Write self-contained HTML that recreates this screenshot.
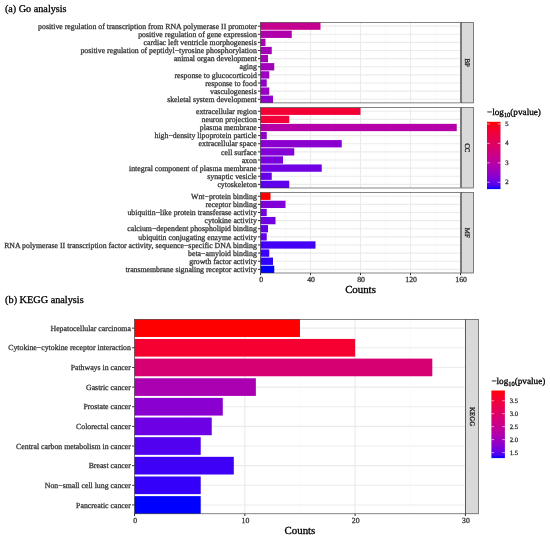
<!DOCTYPE html>
<html><head><meta charset="utf-8"><style>
html,body{margin:0;padding:0;background:#fff;}
svg{display:block;font-family:'Liberation Serif', 'DejaVu Serif', serif;text-rendering:geometricPrecision;}
text{stroke-width:0.3px;stroke-linejoin:round;}
</style></head><body>
<svg width="550" height="541" viewBox="0 0 550 541">
<rect width="550" height="541" fill="#fff"/>
<text x="4.9" y="11.9" font-size="10.2" fill="#000" stroke="#000">(a) Go analysis</text>
<rect x="260.5" y="22.5" width="200.0" height="80.4" fill="#fff"/>
<line x1="285.50" y1="22.5" x2="285.50" y2="102.9" stroke="#F5F5F5" stroke-width="0.55"/>
<line x1="335.50" y1="22.5" x2="335.50" y2="102.9" stroke="#F5F5F5" stroke-width="0.55"/>
<line x1="385.50" y1="22.5" x2="385.50" y2="102.9" stroke="#F5F5F5" stroke-width="0.55"/>
<line x1="435.50" y1="22.5" x2="435.50" y2="102.9" stroke="#F5F5F5" stroke-width="0.55"/>
<line x1="260.50" y1="22.5" x2="260.50" y2="102.9" stroke="#EBEBEB" stroke-width="1.1"/>
<line x1="310.50" y1="22.5" x2="310.50" y2="102.9" stroke="#EBEBEB" stroke-width="1.1"/>
<line x1="360.50" y1="22.5" x2="360.50" y2="102.9" stroke="#EBEBEB" stroke-width="1.1"/>
<line x1="410.50" y1="22.5" x2="410.50" y2="102.9" stroke="#EBEBEB" stroke-width="1.1"/>
<line x1="460.50" y1="22.5" x2="460.50" y2="102.9" stroke="#EBEBEB" stroke-width="1.1"/>
<line x1="260.5" y1="26.15" x2="460.5" y2="26.15" stroke="#EBEBEB" stroke-width="1.1"/>
<line x1="260.5" y1="34.28" x2="460.5" y2="34.28" stroke="#EBEBEB" stroke-width="1.1"/>
<line x1="260.5" y1="42.40" x2="460.5" y2="42.40" stroke="#EBEBEB" stroke-width="1.1"/>
<line x1="260.5" y1="50.52" x2="460.5" y2="50.52" stroke="#EBEBEB" stroke-width="1.1"/>
<line x1="260.5" y1="58.64" x2="460.5" y2="58.64" stroke="#EBEBEB" stroke-width="1.1"/>
<line x1="260.5" y1="66.76" x2="460.5" y2="66.76" stroke="#EBEBEB" stroke-width="1.1"/>
<line x1="260.5" y1="74.88" x2="460.5" y2="74.88" stroke="#EBEBEB" stroke-width="1.1"/>
<line x1="260.5" y1="83.00" x2="460.5" y2="83.00" stroke="#EBEBEB" stroke-width="1.1"/>
<line x1="260.5" y1="91.12" x2="460.5" y2="91.12" stroke="#EBEBEB" stroke-width="1.1"/>
<line x1="260.5" y1="99.25" x2="460.5" y2="99.25" stroke="#EBEBEB" stroke-width="1.1"/>
<rect x="260.5" y="22.50" width="60.00" height="7.31" fill="#C5008F"/>
<line x1="258.00" y1="26.15" x2="260.5" y2="26.15" stroke="#333333" stroke-width="1"/>
<text x="256.80" y="28.85" text-anchor="end" font-size="7.8" fill="#383838" stroke="#383838">positive regulation of transcription from RNA polymerase II promoter</text>
<rect x="260.5" y="30.62" width="31.25" height="7.31" fill="#B000AB"/>
<line x1="258.00" y1="34.28" x2="260.5" y2="34.28" stroke="#333333" stroke-width="1"/>
<text x="256.80" y="36.98" text-anchor="end" font-size="7.8" fill="#383838" stroke="#383838">positive regulation of gene expression</text>
<rect x="260.5" y="38.74" width="5.00" height="7.31" fill="#AC00B0"/>
<line x1="258.00" y1="42.40" x2="260.5" y2="42.40" stroke="#333333" stroke-width="1"/>
<text x="256.80" y="45.10" text-anchor="end" font-size="7.8" fill="#383838" stroke="#383838">cardiac left ventricle morphogenesis</text>
<rect x="260.5" y="46.86" width="11.25" height="7.31" fill="#A600B7"/>
<line x1="258.00" y1="50.52" x2="260.5" y2="50.52" stroke="#333333" stroke-width="1"/>
<text x="256.80" y="53.22" text-anchor="end" font-size="7.8" fill="#383838" stroke="#383838">positive regulation of peptidyl−tyrosine phosphorylation</text>
<rect x="260.5" y="54.98" width="7.50" height="7.31" fill="#A400B9"/>
<line x1="258.00" y1="58.64" x2="260.5" y2="58.64" stroke="#333333" stroke-width="1"/>
<text x="256.80" y="61.34" text-anchor="end" font-size="7.8" fill="#383838" stroke="#383838">animal organ development</text>
<rect x="260.5" y="63.11" width="13.75" height="7.31" fill="#A200BB"/>
<line x1="258.00" y1="66.76" x2="260.5" y2="66.76" stroke="#333333" stroke-width="1"/>
<text x="256.80" y="69.46" text-anchor="end" font-size="7.8" fill="#383838" stroke="#383838">aging</text>
<rect x="260.5" y="71.23" width="8.75" height="7.31" fill="#9D00C0"/>
<line x1="258.00" y1="74.88" x2="260.5" y2="74.88" stroke="#333333" stroke-width="1"/>
<text x="256.80" y="77.58" text-anchor="end" font-size="7.8" fill="#383838" stroke="#383838">response to glucocorticoid</text>
<rect x="260.5" y="79.35" width="6.25" height="7.31" fill="#9200CA"/>
<line x1="258.00" y1="83.00" x2="260.5" y2="83.00" stroke="#333333" stroke-width="1"/>
<text x="256.80" y="85.70" text-anchor="end" font-size="7.8" fill="#383838" stroke="#383838">response to food</text>
<rect x="260.5" y="87.47" width="8.75" height="7.31" fill="#9A00C3"/>
<line x1="258.00" y1="91.12" x2="260.5" y2="91.12" stroke="#333333" stroke-width="1"/>
<text x="256.80" y="93.82" text-anchor="end" font-size="7.8" fill="#383838" stroke="#383838">vasculogenesis</text>
<rect x="260.5" y="95.59" width="12.50" height="7.31" fill="#9000CC"/>
<line x1="258.00" y1="99.25" x2="260.5" y2="99.25" stroke="#333333" stroke-width="1"/>
<text x="256.80" y="101.95" text-anchor="end" font-size="7.8" fill="#383838" stroke="#383838">skeletal system development</text>
<rect x="260.5" y="22.5" width="200.0" height="80.4" fill="none" stroke="#333333" stroke-width="0.6"/>
<rect x="461.5" y="22.5" width="12.0" height="80.4" fill="#D9D9D9" stroke="#333333" stroke-width="0.6"/>
<text x="0" y="0" transform="translate(465.10,62.70) rotate(90)" text-anchor="middle" font-size="6.9" fill="#1A1A1A" stroke="#1A1A1A">BP</text>
<rect x="260.5" y="107.6" width="200.0" height="80.4" fill="#fff"/>
<line x1="285.50" y1="107.6" x2="285.50" y2="188.0" stroke="#F5F5F5" stroke-width="0.55"/>
<line x1="335.50" y1="107.6" x2="335.50" y2="188.0" stroke="#F5F5F5" stroke-width="0.55"/>
<line x1="385.50" y1="107.6" x2="385.50" y2="188.0" stroke="#F5F5F5" stroke-width="0.55"/>
<line x1="435.50" y1="107.6" x2="435.50" y2="188.0" stroke="#F5F5F5" stroke-width="0.55"/>
<line x1="260.50" y1="107.6" x2="260.50" y2="188.0" stroke="#EBEBEB" stroke-width="1.1"/>
<line x1="310.50" y1="107.6" x2="310.50" y2="188.0" stroke="#EBEBEB" stroke-width="1.1"/>
<line x1="360.50" y1="107.6" x2="360.50" y2="188.0" stroke="#EBEBEB" stroke-width="1.1"/>
<line x1="410.50" y1="107.6" x2="410.50" y2="188.0" stroke="#EBEBEB" stroke-width="1.1"/>
<line x1="460.50" y1="107.6" x2="460.50" y2="188.0" stroke="#EBEBEB" stroke-width="1.1"/>
<line x1="260.5" y1="111.25" x2="460.5" y2="111.25" stroke="#EBEBEB" stroke-width="1.1"/>
<line x1="260.5" y1="119.38" x2="460.5" y2="119.38" stroke="#EBEBEB" stroke-width="1.1"/>
<line x1="260.5" y1="127.50" x2="460.5" y2="127.50" stroke="#EBEBEB" stroke-width="1.1"/>
<line x1="260.5" y1="135.62" x2="460.5" y2="135.62" stroke="#EBEBEB" stroke-width="1.1"/>
<line x1="260.5" y1="143.74" x2="460.5" y2="143.74" stroke="#EBEBEB" stroke-width="1.1"/>
<line x1="260.5" y1="151.86" x2="460.5" y2="151.86" stroke="#EBEBEB" stroke-width="1.1"/>
<line x1="260.5" y1="159.98" x2="460.5" y2="159.98" stroke="#EBEBEB" stroke-width="1.1"/>
<line x1="260.5" y1="168.10" x2="460.5" y2="168.10" stroke="#EBEBEB" stroke-width="1.1"/>
<line x1="260.5" y1="176.22" x2="460.5" y2="176.22" stroke="#EBEBEB" stroke-width="1.1"/>
<line x1="260.5" y1="184.35" x2="460.5" y2="184.35" stroke="#EBEBEB" stroke-width="1.1"/>
<rect x="260.5" y="107.60" width="100.00" height="7.31" fill="#F30035"/>
<line x1="258.00" y1="111.25" x2="260.5" y2="111.25" stroke="#333333" stroke-width="1"/>
<text x="256.80" y="113.95" text-anchor="end" font-size="7.8" fill="#383838" stroke="#383838">extracellular region</text>
<rect x="260.5" y="115.72" width="28.75" height="7.31" fill="#F1003A"/>
<line x1="258.00" y1="119.38" x2="260.5" y2="119.38" stroke="#333333" stroke-width="1"/>
<text x="256.80" y="122.08" text-anchor="end" font-size="7.8" fill="#383838" stroke="#383838">neuron projection</text>
<rect x="260.5" y="123.84" width="196.25" height="7.31" fill="#B400A6"/>
<line x1="258.00" y1="127.50" x2="260.5" y2="127.50" stroke="#333333" stroke-width="1"/>
<text x="256.80" y="130.20" text-anchor="end" font-size="7.8" fill="#383838" stroke="#383838">plasma membrane</text>
<rect x="260.5" y="131.96" width="6.25" height="7.31" fill="#9200CA"/>
<line x1="258.00" y1="135.62" x2="260.5" y2="135.62" stroke="#333333" stroke-width="1"/>
<text x="256.80" y="138.32" text-anchor="end" font-size="7.8" fill="#383838" stroke="#383838">high−density lipoprotein particle</text>
<rect x="260.5" y="140.08" width="81.25" height="7.31" fill="#8A00D1"/>
<line x1="258.00" y1="143.74" x2="260.5" y2="143.74" stroke="#333333" stroke-width="1"/>
<text x="256.80" y="146.44" text-anchor="end" font-size="7.8" fill="#383838" stroke="#383838">extracellular space</text>
<rect x="260.5" y="148.21" width="33.75" height="7.31" fill="#8300D6"/>
<line x1="258.00" y1="151.86" x2="260.5" y2="151.86" stroke="#333333" stroke-width="1"/>
<text x="256.80" y="154.56" text-anchor="end" font-size="7.8" fill="#383838" stroke="#383838">cell surface</text>
<rect x="260.5" y="156.33" width="22.50" height="7.31" fill="#7900DD"/>
<line x1="258.00" y1="159.98" x2="260.5" y2="159.98" stroke="#333333" stroke-width="1"/>
<text x="256.80" y="162.68" text-anchor="end" font-size="7.8" fill="#383838" stroke="#383838">axon</text>
<rect x="260.5" y="164.45" width="61.25" height="7.31" fill="#7100E2"/>
<line x1="258.00" y1="168.10" x2="260.5" y2="168.10" stroke="#333333" stroke-width="1"/>
<text x="256.80" y="170.80" text-anchor="end" font-size="7.8" fill="#383838" stroke="#383838">integral component of plasma membrane</text>
<rect x="260.5" y="172.57" width="11.25" height="7.31" fill="#6800E7"/>
<line x1="258.00" y1="176.22" x2="260.5" y2="176.22" stroke="#333333" stroke-width="1"/>
<text x="256.80" y="178.92" text-anchor="end" font-size="7.8" fill="#383838" stroke="#383838">synaptic vesicle</text>
<rect x="260.5" y="180.69" width="28.75" height="7.31" fill="#5E00EB"/>
<line x1="258.00" y1="184.35" x2="260.5" y2="184.35" stroke="#333333" stroke-width="1"/>
<text x="256.80" y="187.05" text-anchor="end" font-size="7.8" fill="#383838" stroke="#383838">cytoskeleton</text>
<rect x="260.5" y="107.6" width="200.0" height="80.4" fill="none" stroke="#333333" stroke-width="0.6"/>
<rect x="461.5" y="107.6" width="12.0" height="80.4" fill="#D9D9D9" stroke="#333333" stroke-width="0.6"/>
<text x="0" y="0" transform="translate(465.10,147.80) rotate(90)" text-anchor="middle" font-size="6.9" fill="#1A1A1A" stroke="#1A1A1A">CC</text>
<rect x="260.5" y="192.6" width="200.0" height="80.4" fill="#fff"/>
<line x1="285.50" y1="192.6" x2="285.50" y2="273.0" stroke="#F5F5F5" stroke-width="0.55"/>
<line x1="335.50" y1="192.6" x2="335.50" y2="273.0" stroke="#F5F5F5" stroke-width="0.55"/>
<line x1="385.50" y1="192.6" x2="385.50" y2="273.0" stroke="#F5F5F5" stroke-width="0.55"/>
<line x1="435.50" y1="192.6" x2="435.50" y2="273.0" stroke="#F5F5F5" stroke-width="0.55"/>
<line x1="260.50" y1="192.6" x2="260.50" y2="273.0" stroke="#EBEBEB" stroke-width="1.1"/>
<line x1="310.50" y1="192.6" x2="310.50" y2="273.0" stroke="#EBEBEB" stroke-width="1.1"/>
<line x1="360.50" y1="192.6" x2="360.50" y2="273.0" stroke="#EBEBEB" stroke-width="1.1"/>
<line x1="410.50" y1="192.6" x2="410.50" y2="273.0" stroke="#EBEBEB" stroke-width="1.1"/>
<line x1="460.50" y1="192.6" x2="460.50" y2="273.0" stroke="#EBEBEB" stroke-width="1.1"/>
<line x1="260.5" y1="196.25" x2="460.5" y2="196.25" stroke="#EBEBEB" stroke-width="1.1"/>
<line x1="260.5" y1="204.38" x2="460.5" y2="204.38" stroke="#EBEBEB" stroke-width="1.1"/>
<line x1="260.5" y1="212.50" x2="460.5" y2="212.50" stroke="#EBEBEB" stroke-width="1.1"/>
<line x1="260.5" y1="220.62" x2="460.5" y2="220.62" stroke="#EBEBEB" stroke-width="1.1"/>
<line x1="260.5" y1="228.74" x2="460.5" y2="228.74" stroke="#EBEBEB" stroke-width="1.1"/>
<line x1="260.5" y1="236.86" x2="460.5" y2="236.86" stroke="#EBEBEB" stroke-width="1.1"/>
<line x1="260.5" y1="244.98" x2="460.5" y2="244.98" stroke="#EBEBEB" stroke-width="1.1"/>
<line x1="260.5" y1="253.10" x2="460.5" y2="253.10" stroke="#EBEBEB" stroke-width="1.1"/>
<line x1="260.5" y1="261.22" x2="460.5" y2="261.22" stroke="#EBEBEB" stroke-width="1.1"/>
<line x1="260.5" y1="269.35" x2="460.5" y2="269.35" stroke="#EBEBEB" stroke-width="1.1"/>
<rect x="260.5" y="192.60" width="10.00" height="7.31" fill="#FF0000"/>
<line x1="258.00" y1="196.25" x2="260.5" y2="196.25" stroke="#333333" stroke-width="1"/>
<text x="256.80" y="198.95" text-anchor="end" font-size="7.8" fill="#383838" stroke="#383838">Wnt−protein binding</text>
<rect x="260.5" y="200.72" width="25.00" height="7.31" fill="#8000D8"/>
<line x1="258.00" y1="204.38" x2="260.5" y2="204.38" stroke="#333333" stroke-width="1"/>
<text x="256.80" y="207.08" text-anchor="end" font-size="7.8" fill="#383838" stroke="#383838">receptor binding</text>
<rect x="260.5" y="208.84" width="6.25" height="7.31" fill="#7500DF"/>
<line x1="258.00" y1="212.50" x2="260.5" y2="212.50" stroke="#333333" stroke-width="1"/>
<text x="256.80" y="215.20" text-anchor="end" font-size="7.8" fill="#383838" stroke="#383838">ubiquitin−like protein transferase activity</text>
<rect x="260.5" y="216.96" width="15.00" height="7.31" fill="#7100E2"/>
<line x1="258.00" y1="220.62" x2="260.5" y2="220.62" stroke="#333333" stroke-width="1"/>
<text x="256.80" y="223.32" text-anchor="end" font-size="7.8" fill="#383838" stroke="#383838">cytokine activity</text>
<rect x="260.5" y="225.08" width="7.50" height="7.31" fill="#6300E9"/>
<line x1="258.00" y1="228.74" x2="260.5" y2="228.74" stroke="#333333" stroke-width="1"/>
<text x="256.80" y="231.44" text-anchor="end" font-size="7.8" fill="#383838" stroke="#383838">calcium−dependent phospholipid binding</text>
<rect x="260.5" y="233.21" width="6.25" height="7.31" fill="#6100EA"/>
<line x1="258.00" y1="236.86" x2="260.5" y2="236.86" stroke="#333333" stroke-width="1"/>
<text x="256.80" y="239.56" text-anchor="end" font-size="7.8" fill="#383838" stroke="#383838">ubiquitin conjugating enzyme activity</text>
<rect x="260.5" y="241.33" width="55.00" height="7.31" fill="#4300F5"/>
<line x1="258.00" y1="244.98" x2="260.5" y2="244.98" stroke="#333333" stroke-width="1"/>
<text x="256.80" y="247.68" text-anchor="end" font-size="7.8" fill="#383838" stroke="#383838">RNA polymerase II transcription factor activity, sequence−specific DNA binding</text>
<rect x="260.5" y="249.45" width="8.75" height="7.31" fill="#3A00F8"/>
<line x1="258.00" y1="253.10" x2="260.5" y2="253.10" stroke="#333333" stroke-width="1"/>
<text x="256.80" y="255.80" text-anchor="end" font-size="7.8" fill="#383838" stroke="#383838">beta−amyloid binding</text>
<rect x="260.5" y="257.57" width="12.50" height="7.31" fill="#2F00FA"/>
<line x1="258.00" y1="261.22" x2="260.5" y2="261.22" stroke="#333333" stroke-width="1"/>
<text x="256.80" y="263.92" text-anchor="end" font-size="7.8" fill="#383838" stroke="#383838">growth factor activity</text>
<rect x="260.5" y="265.69" width="13.75" height="7.31" fill="#0000FF"/>
<line x1="258.00" y1="269.35" x2="260.5" y2="269.35" stroke="#333333" stroke-width="1"/>
<text x="256.80" y="272.05" text-anchor="end" font-size="7.8" fill="#383838" stroke="#383838">transmembrane signaling receptor activity</text>
<rect x="260.5" y="192.6" width="200.0" height="80.4" fill="none" stroke="#333333" stroke-width="0.6"/>
<rect x="461.5" y="192.6" width="12.0" height="80.4" fill="#D9D9D9" stroke="#333333" stroke-width="0.6"/>
<text x="0" y="0" transform="translate(465.10,232.80) rotate(90)" text-anchor="middle" font-size="6.9" fill="#1A1A1A" stroke="#1A1A1A">MF</text>
<line x1="260.50" y1="273.0" x2="260.50" y2="275.2" stroke="#333333" stroke-width="1"/>
<text x="261.10" y="281.9" text-anchor="middle" font-size="7.8" fill="#383838" stroke="#383838">0</text>
<line x1="310.50" y1="273.0" x2="310.50" y2="275.2" stroke="#333333" stroke-width="1"/>
<text x="311.10" y="281.9" text-anchor="middle" font-size="7.8" fill="#383838" stroke="#383838">40</text>
<line x1="360.50" y1="273.0" x2="360.50" y2="275.2" stroke="#333333" stroke-width="1"/>
<text x="361.10" y="281.9" text-anchor="middle" font-size="7.8" fill="#383838" stroke="#383838">80</text>
<line x1="410.50" y1="273.0" x2="410.50" y2="275.2" stroke="#333333" stroke-width="1"/>
<text x="411.10" y="281.9" text-anchor="middle" font-size="7.8" fill="#383838" stroke="#383838">120</text>
<line x1="460.50" y1="273.0" x2="460.50" y2="275.2" stroke="#333333" stroke-width="1"/>
<text x="461.10" y="281.9" text-anchor="middle" font-size="7.8" fill="#383838" stroke="#383838">160</text>
<text x="360.50" y="293.35" text-anchor="middle" font-size="10.85" fill="#000" stroke="#000">Counts</text>
<text x="487" y="114.7" font-size="9.2" fill="#000" stroke="#000">−log<tspan font-size="6.4" dy="2.2">10</tspan><tspan dy="-2.2">(pvalue)</tspan></text>
<defs><linearGradient id="g1" x1="0" y1="1" x2="0" y2="0"><stop offset="0.00" stop-color="#0000FF"/><stop offset="0.05" stop-color="#4B00F3"/><stop offset="0.10" stop-color="#6800E7"/><stop offset="0.15" stop-color="#7C00DA"/><stop offset="0.20" stop-color="#8D00CE"/><stop offset="0.25" stop-color="#9A00C3"/><stop offset="0.30" stop-color="#A600B7"/><stop offset="0.35" stop-color="#B000AB"/><stop offset="0.40" stop-color="#BA009F"/><stop offset="0.45" stop-color="#C20094"/><stop offset="0.50" stop-color="#CA0088"/><stop offset="0.55" stop-color="#D1007D"/><stop offset="0.60" stop-color="#D70072"/><stop offset="0.65" stop-color="#DD0066"/><stop offset="0.70" stop-color="#E3005B"/><stop offset="0.75" stop-color="#E80050"/><stop offset="0.80" stop-color="#ED0044"/><stop offset="0.85" stop-color="#F20037"/><stop offset="0.90" stop-color="#F6002A"/><stop offset="0.95" stop-color="#FB001A"/><stop offset="1.00" stop-color="#FF0000"/></linearGradient></defs>
<rect x="487" y="121.8" width="13.5" height="67.3" fill="url(#g1)"/>
<line x1="487" y1="182.29" x2="489.7" y2="182.29" stroke="#fff" stroke-width="0.6"/>
<line x1="497.8" y1="182.29" x2="500.5" y2="182.29" stroke="#fff" stroke-width="0.6"/>
<text x="505.30" y="184.39" font-size="6.7" fill="#383838" stroke="#383838">2</text>
<line x1="487" y1="162.84" x2="489.7" y2="162.84" stroke="#fff" stroke-width="0.6"/>
<line x1="497.8" y1="162.84" x2="500.5" y2="162.84" stroke="#fff" stroke-width="0.6"/>
<text x="505.30" y="164.94" font-size="6.7" fill="#383838" stroke="#383838">3</text>
<line x1="487" y1="143.39" x2="489.7" y2="143.39" stroke="#fff" stroke-width="0.6"/>
<line x1="497.8" y1="143.39" x2="500.5" y2="143.39" stroke="#fff" stroke-width="0.6"/>
<text x="505.30" y="145.49" font-size="6.7" fill="#383838" stroke="#383838">4</text>
<line x1="487" y1="123.94" x2="489.7" y2="123.94" stroke="#fff" stroke-width="0.6"/>
<line x1="497.8" y1="123.94" x2="500.5" y2="123.94" stroke="#fff" stroke-width="0.6"/>
<text x="505.30" y="126.04" font-size="6.7" fill="#383838" stroke="#383838">5</text>
<text x="5.1" y="302.5" font-size="10.25" fill="#000" stroke="#000">(b) KEGG analysis</text>
<rect x="134.55" y="319.3" width="330.84999999999997" height="194.49999999999994" fill="#fff"/>
<line x1="189.69" y1="319.3" x2="189.69" y2="513.8" stroke="#F5F5F5" stroke-width="0.55"/>
<line x1="299.98" y1="319.3" x2="299.98" y2="513.8" stroke="#F5F5F5" stroke-width="0.55"/>
<line x1="410.26" y1="319.3" x2="410.26" y2="513.8" stroke="#F5F5F5" stroke-width="0.55"/>
<line x1="134.55" y1="319.3" x2="134.55" y2="513.8" stroke="#EBEBEB" stroke-width="1.1"/>
<line x1="244.83" y1="319.3" x2="244.83" y2="513.8" stroke="#EBEBEB" stroke-width="1.1"/>
<line x1="355.12" y1="319.3" x2="355.12" y2="513.8" stroke="#EBEBEB" stroke-width="1.1"/>
<line x1="465.40" y1="319.3" x2="465.40" y2="513.8" stroke="#EBEBEB" stroke-width="1.1"/>
<line x1="134.55" y1="328.14" x2="465.4" y2="328.14" stroke="#EBEBEB" stroke-width="1.1"/>
<line x1="134.55" y1="347.79" x2="465.4" y2="347.79" stroke="#EBEBEB" stroke-width="1.1"/>
<line x1="134.55" y1="367.43" x2="465.4" y2="367.43" stroke="#EBEBEB" stroke-width="1.1"/>
<line x1="134.55" y1="387.08" x2="465.4" y2="387.08" stroke="#EBEBEB" stroke-width="1.1"/>
<line x1="134.55" y1="406.73" x2="465.4" y2="406.73" stroke="#EBEBEB" stroke-width="1.1"/>
<line x1="134.55" y1="426.37" x2="465.4" y2="426.37" stroke="#EBEBEB" stroke-width="1.1"/>
<line x1="134.55" y1="446.02" x2="465.4" y2="446.02" stroke="#EBEBEB" stroke-width="1.1"/>
<line x1="134.55" y1="465.67" x2="465.4" y2="465.67" stroke="#EBEBEB" stroke-width="1.1"/>
<line x1="134.55" y1="485.31" x2="465.4" y2="485.31" stroke="#EBEBEB" stroke-width="1.1"/>
<line x1="134.55" y1="504.96" x2="465.4" y2="504.96" stroke="#EBEBEB" stroke-width="1.1"/>
<rect x="134.55" y="319.30" width="165.42" height="17.68" fill="#FF0000"/>
<line x1="132.05" y1="328.14" x2="134.55" y2="328.14" stroke="#333333" stroke-width="1"/>
<text x="130.85" y="330.84" text-anchor="end" font-size="7.8" fill="#383838" stroke="#383838">Hepatocellular carcinoma</text>
<rect x="134.55" y="338.95" width="220.57" height="17.68" fill="#F50030"/>
<line x1="132.05" y1="347.79" x2="134.55" y2="347.79" stroke="#333333" stroke-width="1"/>
<text x="130.85" y="350.49" text-anchor="end" font-size="7.8" fill="#383838" stroke="#383838">Cytokine−cytokine receptor interaction</text>
<rect x="134.55" y="358.59" width="297.76" height="17.68" fill="#D70072"/>
<line x1="132.05" y1="367.43" x2="134.55" y2="367.43" stroke="#333333" stroke-width="1"/>
<text x="130.85" y="370.13" text-anchor="end" font-size="7.8" fill="#383838" stroke="#383838">Pathways in cancer</text>
<rect x="134.55" y="378.24" width="121.31" height="17.68" fill="#AA00B2"/>
<line x1="132.05" y1="387.08" x2="134.55" y2="387.08" stroke="#333333" stroke-width="1"/>
<text x="130.85" y="389.78" text-anchor="end" font-size="7.8" fill="#383838" stroke="#383838">Gastric cancer</text>
<rect x="134.55" y="397.89" width="88.23" height="17.68" fill="#8A00D1"/>
<line x1="132.05" y1="406.73" x2="134.55" y2="406.73" stroke="#333333" stroke-width="1"/>
<text x="130.85" y="409.43" text-anchor="end" font-size="7.8" fill="#383838" stroke="#383838">Prostate cancer</text>
<rect x="134.55" y="417.53" width="77.20" height="17.68" fill="#6D00E4"/>
<line x1="132.05" y1="426.37" x2="134.55" y2="426.37" stroke="#333333" stroke-width="1"/>
<text x="130.85" y="429.07" text-anchor="end" font-size="7.8" fill="#383838" stroke="#383838">Colorectal cancer</text>
<rect x="134.55" y="437.18" width="66.17" height="17.68" fill="#5200F0"/>
<line x1="132.05" y1="446.02" x2="134.55" y2="446.02" stroke="#333333" stroke-width="1"/>
<text x="130.85" y="448.72" text-anchor="end" font-size="7.8" fill="#383838" stroke="#383838">Central carbon metabolism in cancer</text>
<rect x="134.55" y="456.83" width="99.25" height="17.68" fill="#3F00F6"/>
<line x1="132.05" y1="465.67" x2="134.55" y2="465.67" stroke="#333333" stroke-width="1"/>
<text x="130.85" y="468.37" text-anchor="end" font-size="7.8" fill="#383838" stroke="#383838">Breast cancer</text>
<rect x="134.55" y="476.47" width="66.17" height="17.68" fill="#3500F9"/>
<line x1="132.05" y1="485.31" x2="134.55" y2="485.31" stroke="#333333" stroke-width="1"/>
<text x="130.85" y="488.01" text-anchor="end" font-size="7.8" fill="#383838" stroke="#383838">Non−small cell lung cancer</text>
<rect x="134.55" y="496.12" width="66.17" height="17.68" fill="#0000FF"/>
<line x1="132.05" y1="504.96" x2="134.55" y2="504.96" stroke="#333333" stroke-width="1"/>
<text x="130.85" y="507.66" text-anchor="end" font-size="7.8" fill="#383838" stroke="#383838">Pancreatic cancer</text>
<rect x="134.55" y="319.3" width="330.84999999999997" height="194.49999999999994" fill="none" stroke="#333333" stroke-width="0.6"/>
<rect x="465.7" y="319.3" width="12.800000000000011" height="194.49999999999994" fill="#D9D9D9" stroke="#333333" stroke-width="0.6"/>
<text x="0" y="0" transform="translate(469.70,416.55) rotate(90)" text-anchor="middle" font-size="6.9" fill="#1A1A1A" stroke="#1A1A1A">KEGG</text>
<line x1="134.55" y1="513.8" x2="134.55" y2="516.0" stroke="#333333" stroke-width="1"/>
<text x="135.15" y="522.9" text-anchor="middle" font-size="7.8" fill="#383838" stroke="#383838">0</text>
<line x1="244.83" y1="513.8" x2="244.83" y2="516.0" stroke="#333333" stroke-width="1"/>
<text x="245.43" y="522.9" text-anchor="middle" font-size="7.8" fill="#383838" stroke="#383838">10</text>
<line x1="355.12" y1="513.8" x2="355.12" y2="516.0" stroke="#333333" stroke-width="1"/>
<text x="355.72" y="522.9" text-anchor="middle" font-size="7.8" fill="#383838" stroke="#383838">20</text>
<line x1="465.40" y1="513.8" x2="465.40" y2="516.0" stroke="#333333" stroke-width="1"/>
<text x="466.00" y="522.9" text-anchor="middle" font-size="7.8" fill="#383838" stroke="#383838">30</text>
<text x="299.98" y="534.2" text-anchor="middle" font-size="10.85" fill="#000" stroke="#000">Counts</text>
<text x="491.4" y="383.9" font-size="9.2" fill="#000" stroke="#000">−log<tspan font-size="6.4" dy="2.2">10</tspan><tspan dy="-2.2">(pvalue)</tspan></text>
<defs><linearGradient id="g2" x1="0" y1="1" x2="0" y2="0"><stop offset="0.00" stop-color="#0000FF"/><stop offset="0.05" stop-color="#4B00F3"/><stop offset="0.10" stop-color="#6800E7"/><stop offset="0.15" stop-color="#7C00DA"/><stop offset="0.20" stop-color="#8D00CE"/><stop offset="0.25" stop-color="#9A00C3"/><stop offset="0.30" stop-color="#A600B7"/><stop offset="0.35" stop-color="#B000AB"/><stop offset="0.40" stop-color="#BA009F"/><stop offset="0.45" stop-color="#C20094"/><stop offset="0.50" stop-color="#CA0088"/><stop offset="0.55" stop-color="#D1007D"/><stop offset="0.60" stop-color="#D70072"/><stop offset="0.65" stop-color="#DD0066"/><stop offset="0.70" stop-color="#E3005B"/><stop offset="0.75" stop-color="#E80050"/><stop offset="0.80" stop-color="#ED0044"/><stop offset="0.85" stop-color="#F20037"/><stop offset="0.90" stop-color="#F6002A"/><stop offset="0.95" stop-color="#FB001A"/><stop offset="1.00" stop-color="#FF0000"/></linearGradient></defs>
<rect x="491.4" y="390.5" width="13.5" height="67.60000000000002" fill="url(#g2)"/>
<line x1="491.4" y1="452.58" x2="494.09999999999997" y2="452.58" stroke="#fff" stroke-width="0.6"/>
<line x1="502.2" y1="452.58" x2="504.9" y2="452.58" stroke="#fff" stroke-width="0.6"/>
<text x="509.70" y="454.68" font-size="6.7" fill="#383838" stroke="#383838">1.5</text>
<line x1="491.4" y1="439.62" x2="494.09999999999997" y2="439.62" stroke="#fff" stroke-width="0.6"/>
<line x1="502.2" y1="439.62" x2="504.9" y2="439.62" stroke="#fff" stroke-width="0.6"/>
<text x="509.70" y="441.72" font-size="6.7" fill="#383838" stroke="#383838">2.0</text>
<line x1="491.4" y1="426.66" x2="494.09999999999997" y2="426.66" stroke="#fff" stroke-width="0.6"/>
<line x1="502.2" y1="426.66" x2="504.9" y2="426.66" stroke="#fff" stroke-width="0.6"/>
<text x="509.70" y="428.76" font-size="6.7" fill="#383838" stroke="#383838">2.5</text>
<line x1="491.4" y1="413.70" x2="494.09999999999997" y2="413.70" stroke="#fff" stroke-width="0.6"/>
<line x1="502.2" y1="413.70" x2="504.9" y2="413.70" stroke="#fff" stroke-width="0.6"/>
<text x="509.70" y="415.80" font-size="6.7" fill="#383838" stroke="#383838">3.0</text>
<line x1="491.4" y1="400.74" x2="494.09999999999997" y2="400.74" stroke="#fff" stroke-width="0.6"/>
<line x1="502.2" y1="400.74" x2="504.9" y2="400.74" stroke="#fff" stroke-width="0.6"/>
<text x="509.70" y="402.84" font-size="6.7" fill="#383838" stroke="#383838">3.5</text>
</svg></body></html>
